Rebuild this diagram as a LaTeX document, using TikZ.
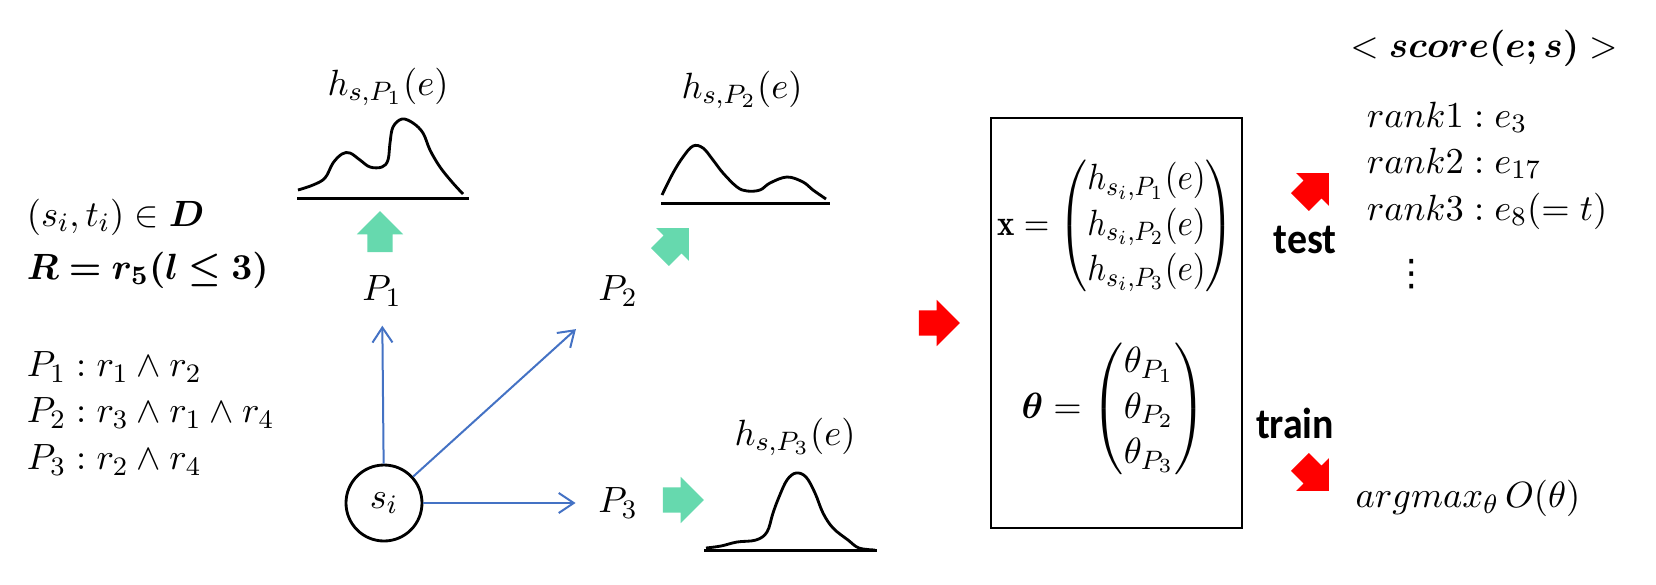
\documentclass[tikz,border=0pt,11pt]{standalone}
\usepackage{fontspec}
\newfontfamily\tagfont[FakeStretch=0.92]{Carlito}
\newfontfamily\dotsfont{DejaVu Sans}
\usepackage{amsmath}
\usepackage{bm}
\usetikzlibrary{arrows.meta,shapes.arrows,positioning}
\definecolor{mint}{HTML}{66D9AE}
\definecolor{pathblue}{HTML}{4472C4}
\tikzset{
  fatarrow/.style={single arrow, draw=none, inner xsep=0pt, inner ysep=3.6pt,
    minimum height=12.3pt, single arrow head extend=3.15pt, single arrow tip angle=90},
  greenarrow/.style={fatarrow, fill=mint},
  redarrow/.style={fatarrow, fill=red},
  pathedge/.style={draw=pathblue, line width=0.6pt, -{Straight Barb[length=4.5pt,width=6pt]}},
  histline/.style={line width=0.85pt, line join=round},
  histbase/.style={line width=0.9pt},
  tag/.style={font=\tagfont\bfseries\fontsize{13}{15}\selectfont, inner sep=1pt},
}

\begin{document}
\begin{tikzpicture}[x=0.3pt, y=-0.3pt]
\useasboundingbox (0,0) rectangle (1656,584);

% data, rule and paths
\node[anchor=west] (data) at (14,217) {$(s_i,t_i)\in\bm{D}$};
\node[anchor=west] (rule) at (14,270) {$\bm{R=r_5(l\le 3)}$};
\node[anchor=west] (path1) at (14,367) {$P_1 : r_1\wedge r_2$};
\node[anchor=west] (path2) at (14,413) {$P_2 : r_3\wedge r_1\wedge r_4$};
\node[anchor=west] (path3) at (14,460) {$P_3 : r_2\wedge r_4$};

% source node and path labels
\node[circle, draw, line width=0.85pt, minimum size=22.8pt, inner sep=0pt] (si) at (384,503) {$s_i$};
\node (p1) at (382,291) {$P_1$};
\node (p2) at (618,291) {$P_2$};
\node (p3) at (618,503) {$P_3$};
\draw[pathedge, shorten >=2pt] (si) -- (p1);
\draw[pathedge, shorten >=4.5pt] (si) -- (p2);
\draw[pathedge, shorten >=3pt] (si) -- (si -| p3.west);

% distributions
\node[greenarrow, rotate=90] (g1) at (380,238) {};
\node[greenarrow, rotate=45] (g2) at (670,247) {};
\node[greenarrow] (g3) at (677,500) {};
\node (h1) at (388,87) {$h_{s,P_1}(e)$};
\node (h2) at (742,90) {$h_{s,P_2}(e)$};
\node (h3) at (795,437) {$h_{s,P_3}(e)$};
\draw[histbase] (297,198) -- (469,198);
\draw[histline] plot[smooth, tension=0.6] coordinates {(298,190) (313,185) (325,178) (333,163) (342,154)
  (350,153) (360,160) (370,167) (382,167) (388,160) (390,143) (393,127) (402,119) (413,123)
  (423,133) (430,150) (440,167) (452,182) (463,194)};
\draw[histbase] (661,203) -- (830,203);
\draw[histline] plot[smooth, tension=0.6] coordinates {(662,195) (673,173) (683,157) (693,146) (703,148)
  (713,160) (723,173) (737,187) (747,191) (760,190) (770,183) (787,177) (803,182) (813,190) (826,199)};
\draw[histbase] (704,550) -- (877,550);
\draw[histline] plot[smooth, tension=0.6] coordinates {(706,548) (721,546) (737,542) (756,540) (767,532)
  (773,513) (779,497) (787,480) (796,473) (806,477) (815,493) (823,513) (833,528) (848,540)
  (859,548) (875,550)};

% feature box
\node[redarrow] (r0) at (933,323) {};
\node[draw, line width=0.8pt, minimum width=75.3pt, minimum height=123pt] (box) at (1116.5,323) {};
\node (xvec) at (1116,226) {\scalebox{0.9}[1]{$\mathbf{x}=\begin{pmatrix}h_{s_i,P_1}(e)\\h_{s_i,P_2}(e)\\h_{s_i,P_3}(e)\end{pmatrix}$}};
\node (tvec) at (1114,409) {$\bm{\theta}=\begin{pmatrix}\theta_{P_1}\\\theta_{P_2}\\\theta_{P_3}\end{pmatrix}$};

% test and train
\node[redarrow, rotate=45] (rtest) at (1310,192) {};
\node[tag] (test) at (1305,240) {test};
\node[tag] (train) at (1295,423) {train};
\node[redarrow, rotate=-45] (rtrain) at (1310,472) {};
\node[anchor=base] (score) at (1484,57) {$<\bm{score(e;s)}>$};
\node[anchor=base west] (rank1) at (1354,127) {$rank1 : e_3$};
\node[anchor=base west] (rank2) at (1354,173) {$rank2 : e_{17}$};
\node[anchor=base west] (rank3) at (1354,220) {$rank3 : e_8(=t)$};
\node[inner sep=0pt, font=\dotsfont] (dots) at (1412,274) {⋮};
\node (argmax) at (1468,498) {$argmax_\theta\,O(\theta)$};
\end{tikzpicture}
\end{document}
